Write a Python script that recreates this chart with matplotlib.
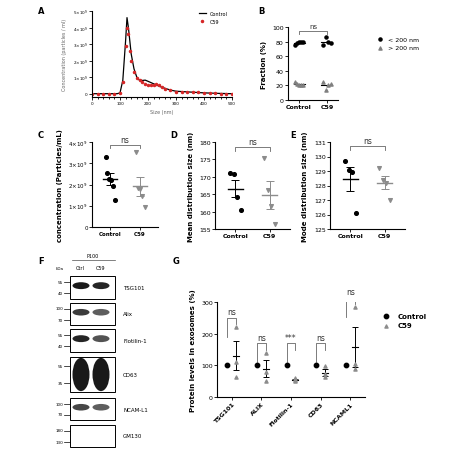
import numpy as np
import matplotlib.pyplot as plt
from matplotlib.patches import Rectangle, Ellipse

W, H = 474, 460

# panel A: size distribution
sizes = [0, 50, 90, 100, 110, 120, 125, 130, 140, 150, 160, 170, 180, 190, 200, 220, 240, 260, 280, 300, 350, 400, 450, 500]
conc_ctrl = [0, 0, 0, 0.05, 0.8, 3.2, 4.6, 4.0, 2.4, 1.5, 1.0, 0.8, 0.8, 0.82, 0.75, 0.6, 0.45, 0.33, 0.22, 0.15, 0.1, 0.05, 0.02, 0]
sizes_c59 = [0, 20, 40, 60, 80, 100, 110, 120, 125, 130, 135, 140, 150, 160, 170, 180, 190, 200, 210, 220, 230, 240, 250, 260,
             280, 300, 320, 340, 360, 380, 400, 420, 440, 460, 480, 500]
conc_c59 = [0, 0, 0, 0, 0, 0.05, 0.7, 2.9, 4.0, 3.6, 2.6, 2.0, 1.3, 0.95, 0.8, 0.72, 0.6, 0.52, 0.5, 0.55, 0.58, 0.5, 0.4, 0.3,
            0.2, 0.12, 0.1, 0.1, 0.1, 0.08, 0.05, 0.03, 0.02, 0.01, 0, 0]
# panel B
b_small_ctrl = [75, 78, 79, 80, 79]
b_small_c59 = [76, 86, 80, 78]
b_large_ctrl = [25, 22, 21, 20, 21]
b_large_c59 = [24, 14, 20, 22]
# panel C
c_ctrl = [3.3, 2.55, 2.25, 2.2, 1.95, 1.25]
c_c59 = [3.55, 1.85, 1.8, 1.45, 0.95]
# panel D
d_ctrl = [171, 170.7, 164.2, 160.6]
d_c59 = [175.3, 166.2, 161.6, 156.3]
# panel E
e_ctrl = [129.7, 129.1, 128.9, 126.1]
e_c59 = [129.2, 128.4, 128.2, 127.0]
# panel G
proteins = ['TSG101', 'ALIX', 'Flotilin-1', 'CD63', 'NCAML1']
g_c59 = [[220, 110, 62], [138, 80, 52], [60, 55, 50], [98, 72, 62], [283, 105, 88]]
g_sig = ['ns', 'ns', '***', 'ns', 'ns']
# panel F
blots = ['TSG101', 'Alix', 'Flotilin-1', 'CD63', 'NCAM-L1', 'GM130']
blot_kda = [['55', '40'], ['100', '70'], ['55', '40'], ['55', '35'], ['100', '70'], ['180', '130']]
band_int = [[1.0, 0.95], [0.85, 0.7], [0.95, 0.75], [1.0, 1.0], [0.8, 0.7], [0, 0]]

fig = plt.figure(figsize=(W / 100, H / 100), dpi=100)
plt.rcParams['font.family'] = 'DejaVu Sans'


def ax_at(x0, y0, x1, y1):
    return fig.add_axes([x0 / W, 1 - y1 / H, (x1 - x0) / W, (y1 - y0) / H])


def style(ax, fs=4.5):
    for s in ['top', 'right']:
        ax.spines[s].set_visible(False)
    for s in ['left', 'bottom']:
        ax.spines[s].set_linewidth(0.8)
    ax.tick_params(labelsize=fs, length=2, width=0.6, pad=1)


def label(x, y, t):
    fig.text(x / W, 1 - y / H, t, fontsize=6, fontweight='bold', va='center')


def bracket(ax, x0, x1, y, h, txt, fs=5.5):
    ax.plot([x0, x0, x1, x1], [y - h, y, y, y - h], color='0.4', lw=0.6, clip_on=False)
    ax.text((x0 + x1) / 2, y + h * 0.4, txt, ha='center', va='bottom', fontsize=fs, color='0.2')


def scatter_panel(ax, ctrl, c59):
    for i, (vals, mk, col) in enumerate([(ctrl, 'o', 'black'), (c59, 'v', '0.55')]):
        xs = i + np.linspace(-0.15, 0.15, len(vals))
        ax.scatter(xs, vals, marker=mk, s=7, color=col, zorder=3)
        m, sd = np.mean(vals), np.std(vals, ddof=1) / np.sqrt(len(vals))
        ax.plot([i - 0.22, i + 0.22], [m, m], color=col, lw=1)
        ax.errorbar(i, m, yerr=sd, color=col, lw=0.7, capsize=3, capthick=0.7)
    ax.set_xlim(-0.6, 1.6)
    ax.set_xticks([0, 1])
    ax.set_xticklabels(['Control', 'C59'], fontweight='bold', fontsize=5)


# A
label(38, 12, 'A')
ax = ax_at(92, 12, 232, 98)
ax.plot(sizes, conc_ctrl, color='black', lw=0.9, label='Control')
ax.plot(sizes_c59, conc_c59, ls='none', marker='o', ms=1.5, color='#d62728', label='C59')
ax.set_xlim(0, 500)
ax.set_ylim(-0.2, 5)
ax.set_xticks(range(0, 501, 100))
ax.set_xticks(range(0, 501, 20), minor=True)
ax.set_yticks([0, 1, 2, 3, 4, 5])
ax.set_yticklabels(['0'] + ['%d×10$^9$' % i for i in range(1, 6)])
style(ax, 3)
ax.tick_params(which='minor', length=1.2)
ax.set_xlabel('Size (nm)', fontsize=3.5, color='0.4', labelpad=3)
ax.set_ylabel('Concentration (particles / ml)', fontsize=3.5, color='0.4')
ax.legend(fontsize=3.5, frameon=False, loc='upper right', bbox_to_anchor=(1.0, 1.05), handlelength=1.5)

# B
label(258, 12, 'B')
ax = ax_at(288, 28, 338, 101)
for i, (s, l) in enumerate([(b_small_ctrl, b_large_ctrl), (b_small_c59, b_large_c59)]):
    for vals, mk, col in [(s, 'o', 'black'), (l, '^', '0.5')]:
        xs = i + np.linspace(-0.15, 0.15, len(vals))
        ax.scatter(xs, vals, marker=mk, s=5, color=col, zorder=3)
        m = np.mean(vals)
        ax.plot([i - 0.2, i + 0.2], [m, m], color='black', lw=0.8)
ax.scatter([], [], marker='o', s=5, color='black', label='< 200 nm')
ax.scatter([], [], marker='^', s=5, color='0.5', label='> 200 nm')
ax.set_ylim(0, 100)
ax.set_yticks([0, 20, 40, 60, 80, 100])
ax.set_xlim(-0.4, 1.4)
ax.set_xticks([0, 1])
ax.set_xticklabels(['Control', 'C59'], fontweight='bold', fontsize=5)
style(ax)
ax.set_ylabel('Fraction (%)', fontsize=5, fontweight='bold')
bracket(ax, 0, 1, 95, 4, 'ns', 5)
ax.legend(fontsize=4.5, frameon=False, loc='upper left', bbox_to_anchor=(1.6, 0.95), handletextpad=0.3)

# C
label(38, 136, 'C')
ax = ax_at(92, 143, 158, 228)
scatter_panel(ax, c_ctrl, c_c59)
ax.set_ylim(0, 4)
ax.set_yticks([0, 1, 2, 3, 4])
ax.set_yticklabels(['0'] + ['%d×10$^9$' % i for i in range(1, 5)])
style(ax, 4)
ax.set_ylabel('concentration (Particles/mL)', fontsize=5, fontweight='bold')
bracket(ax, 0, 1, 3.85, 0.15, 'ns')

# D
label(170, 136, 'D')
ax = ax_at(215, 143, 290, 230)
scatter_panel(ax, d_ctrl, d_c59)
ax.set_ylim(155, 180)
ax.set_yticks(range(155, 181, 5))
style(ax)
ax.set_ylabel('Mean distribution size (nm)', fontsize=5, fontweight='bold')
bracket(ax, 0, 1, 178.5, 1, 'ns')

# E
label(290, 136, 'E')
ax = ax_at(330, 143, 405, 230)
scatter_panel(ax, e_ctrl, e_c59)
ax.set_ylim(125, 131)
ax.set_yticks(range(125, 132))
style(ax)
ax.set_ylabel('Mode distribution size (nm)', fontsize=5, fontweight='bold')
bracket(ax, 0, 1, 130.7, 0.25, 'ns')

# F
label(38, 262, 'F')
ax = ax_at(40, 255, 160, 450)
ax.set_xlim(40, 160)
ax.set_ylim(450, 255)
ax.axis('off')
ax.plot([72, 115], [261, 261], color='0.3', lw=0.5)
ax.text(93, 259, 'P100', fontsize=3.5, ha='center', va='bottom')
ax.text(80, 270, 'Ctrl', fontsize=3.5, ha='center')
ax.text(100, 270, 'C59', fontsize=3.5, ha='center')
ax.text(60, 270, 'kDa', fontsize=3, ha='center')
tops = [277, 304, 330, 358, 399, 426]
heights = [23, 22, 23, 35, 22, 22]
for k, (name, kd, bi) in enumerate(zip(blots, blot_kda, band_int)):
    t, h = tops[k], heights[k]
    ax.add_patch(Rectangle((70, t), 45, h, fc='white', ec='black', lw=0.7))
    ax.text(123, t + h / 2, name, fontsize=4, va='center')
    for j, kv in enumerate(kd):
        yy = t + h * (0.25 + 0.5 * j)
        ax.plot([64, 70], [yy, yy], color='black', lw=0.5)
        ax.text(63, yy, kv, fontsize=3, ha='right', va='center')
    for j, a in enumerate(bi):
        if a == 0:
            continue
        cx = 81 + 20 * j
        if name == 'CD63':
            ax.add_patch(Ellipse((cx, t + h / 2), 17, h * 0.95, fc='black', alpha=a * 0.9, lw=0))
        else:
            ax.add_patch(Ellipse((cx, t + h * 0.42), 17, h * 0.3, fc='black', alpha=a * 0.9, lw=0))

# G
label(173, 262, 'G')
ax = ax_at(217, 303, 365, 398)
xs = np.arange(len(proteins))
ax.scatter(xs - 0.15, [100] * len(xs), marker='o', s=10, color='black', zorder=3, label='Control')
for i, vals in enumerate(g_c59):
    ax.scatter(np.full(len(vals), i + 0.15), vals, marker='^', s=5, color='0.55', zorder=3,
               label='C59' if i == 0 else None)
    m, sd = np.mean(vals), np.std(vals, ddof=1) / np.sqrt(len(vals))
    ax.plot([i + 0.05, i + 0.25], [m, m], color='black', lw=0.8)
    ax.errorbar(i + 0.15, m, yerr=sd, color='black', lw=0.7, capsize=2, capthick=0.7)
    top = max(max(vals) + 30, 170)
    ax.plot([i - 0.15, i - 0.15, i + 0.15, i + 0.15], [top - 60, top, top, top - 20], color='0.4', lw=0.6)
    ax.text(i, top + 5, g_sig[i], ha='center', va='bottom', fontsize=5.5, color='0.2')
ax.set_ylim(0, 300)
ax.set_yticks([0, 100, 200, 300])
ax.set_xlim(-0.5, len(xs) - 0.5)
ax.set_xticks(xs)
ax.set_xticklabels(proteins, rotation=45, ha='right', fontsize=4.5, fontweight='bold', rotation_mode='anchor')
style(ax)
ax.set_ylabel('Protein levels in exosomes (%)', fontsize=5, fontweight='bold')
ax.legend(fontsize=5, frameon=False, loc='upper left', bbox_to_anchor=(1.05, 0.95),
          prop={'weight': 'bold', 'size': 5})

fig.savefig('out.png', dpi=100)
